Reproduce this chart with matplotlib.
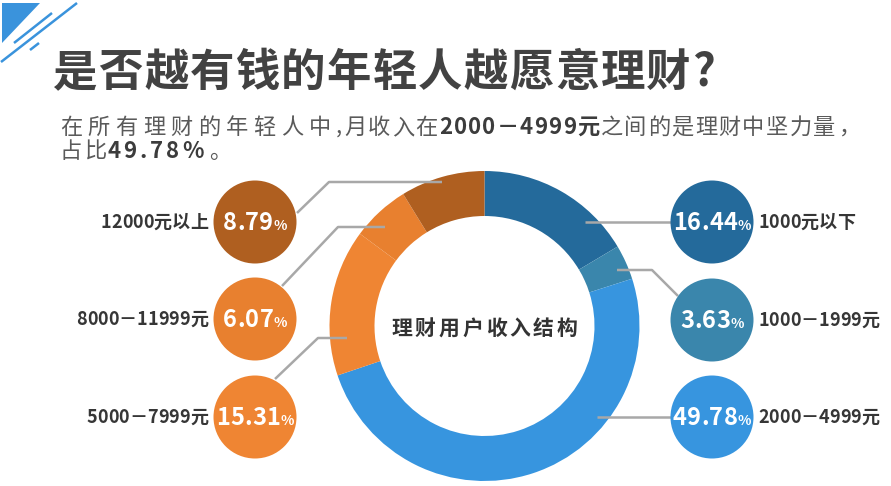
import matplotlib.pyplot as plt
from matplotlib.patches import Circle, Polygon
from matplotlib.font_manager import findfont, FontProperties
from matplotlib.ft2font import FT2Font

W, H = 891, 486
FAMILY = ['Noto Sans CJK SC', 'DejaVu Sans']
plt.rcParams['font.family'] = FAMILY

# data
categories = ['1000元以下', '1000－1999元', '2000－4999元',
              '5000－7999元', '8000－11999元', '12000元以上']
shares = [16.44, 3.63, 49.78, 15.31, 6.07, 8.79]
colors = ['#246A9B', '#3A86AC', '#3795DF', '#EF8533', '#E8802F', '#AF5F20']

title = '是否越有钱的年轻人越愿意理财?'
center_text = '理财用户收入结构'

# layout (pixels from top-left)
DONUT_C = (484.5, 326)
DONUT_R = 155
DONUT_W = 45
BUBBLE_R = 41.5
bubble_pos = [(712, 222), (712, 320), (712, 417),
              (255, 417), (255, 319), (255, 222)]
label_side = ['right', 'right', 'right', 'left', 'left', 'left']
leaders = [
    [(585, 222), (672, 222)],
    [(617, 270), (652, 270), (678, 296)],
    [(597, 417), (672, 417)],
    [(347, 338), (318, 338), (275, 379)],
    [(385, 227), (338, 227), (282, 286)],
    [(442, 182), (329, 182), (297, 213)],
]

fig = plt.figure(figsize=(W / 100, H / 100), dpi=100)
ax = fig.add_axes([0, 0, 1, 1])


def Y(y):
    return H - y


_ft = {}


def advance(ch, size, weight):
    # glyph advance in pixels, scaled against a full-width ideograph (1 em)
    if weight not in _ft:
        path = findfont(FontProperties(family='Noto Sans CJK SC', weight=weight))
        _ft[weight] = FT2Font(path)
    f = _ft[weight]
    f.set_size(48, 100)
    ref = f.load_char(ord('一')).horiAdvance
    g = f.load_char(ord(ch)).horiAdvance
    return g / ref * size * 100 / 72


def draw_runs(x, y, runs, ha='left', zorder=5):
    # runs: (text, size, weight, color, letter spacing px)
    glyphs = []
    pen = 0
    sp = 0
    for text, size, weight, color, sp in runs:
        for ch in text:
            adv = advance(ch, size, weight)
            glyphs.append((pen, adv, ch, size, weight, color))
            pen += adv + sp
    total = pen - sp
    x0 = x - total / 2 if ha == 'center' else (x - total if ha == 'right' else x)
    for p, adv, ch, size, weight, color in glyphs:
        em = size * 100 / 72
        if ch in '，。、':
            ax.text(x0 + p + 0.1 * em, Y(y), ch, ha='left', va='baseline',
                    fontsize=size, fontweight=weight, color=color,
                    family=FAMILY, zorder=zorder)
        else:
            ax.text(x0 + p + adv / 2, Y(y), ch, ha='center', va='baseline',
                    fontsize=size, fontweight=weight, color=color,
                    family=FAMILY, zorder=zorder)


# donut
ax.pie(shares, colors=colors, startangle=90, counterclock=False,
       radius=DONUT_R, center=(DONUT_C[0], Y(DONUT_C[1])),
       wedgeprops=dict(width=DONUT_W, linewidth=0))
ax.set_xlim(0, W)
ax.set_ylim(0, H)
ax.set_axis_off()

# leader lines
for pts in leaders:
    ax.plot([p[0] for p in pts], [Y(p[1]) for p in pts],
            color='#A8A8A8', lw=1.8, solid_capstyle='butt', zorder=3)

# bubbles, values and labels
for cat, val, col, (cx, cy), side in zip(categories, shares, colors,
                                          bubble_pos, label_side):
    ax.add_patch(Circle((cx, Y(cy)), BUBBLE_R, color=col, lw=0, zorder=4))
    draw_runs(cx, cy + 8, [(f'{val:.2f}', 17, 'bold', 'white', 0.3),
                           ('%', 10, 'bold', 'white', 0)], ha='center')
    if side == 'right':
        draw_runs(758, cy + 6, [(cat, 13, 'bold', '#363636', 0)], ha='left')
    else:
        draw_runs(208, cy + 6, [(cat, 13, 'bold', '#363636', 0)], ha='right')

# center caption
draw_runs(DONUT_C[0], 335, [(center_text, 15, 'bold', '#333333', 2.8)],
          ha='center')

# title and subtitle
draw_runs(53, 86, [(title, 32, 'bold', '#424242', 1.2)])
sub_c, sub_b = '#5A5A5A', '#3C3C3C'
draw_runs(60, 134, [('在所有理财的年轻人中', 16, 'normal', sub_c, 5.4),
                    (',', 16, 'normal', sub_c, 2),
                    ('月收入在', 16, 'normal', sub_c, 1.5),
                    ('2000－4999元', 16, 'bold', sub_b, 1.2),
                    ('之间的是理财中坚力量，', 16, 'normal', sub_c, 1.4)])
draw_runs(60, 158, [('占比', 16, 'normal', sub_c, 1.5),
                    ('49.78%', 16, 'bold', sub_b, 3),
                    ('。', 16, 'normal', sub_c, 0)])

# corner decoration
ax.add_patch(Polygon([(2, Y(3)), (40, Y(3)), (2, Y(43))], color='#3A93DC', lw=0))
for (x1, y1), (x2, y2) in [((1, 62), (77, 3)), ((14, 43), (52, 13)),
                           ((30, 50), (39, 43))]:
    ax.plot([x1, x2], [Y(y1), Y(y2)], color='#3A93DC', lw=1.8,
            solid_capstyle='butt')

fig.savefig('out.png', dpi=100, facecolor='white')
